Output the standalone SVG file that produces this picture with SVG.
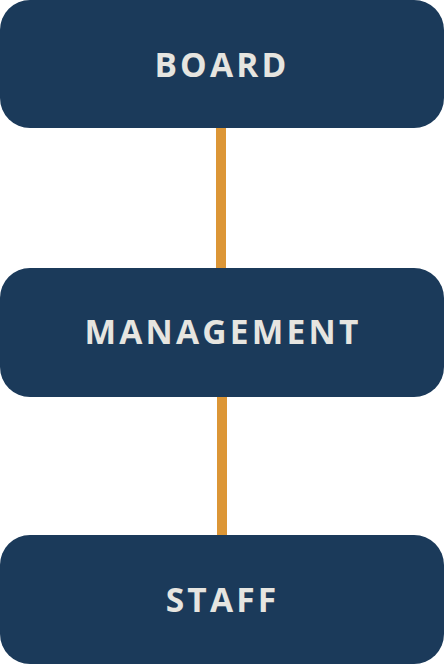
<svg xmlns="http://www.w3.org/2000/svg" width="444" height="664" viewBox="0 0 444 664">
<style>
.box{fill:#1b3a5a}
.lbl{fill:#e6e5e0;font-family:"Open Sans",sans-serif;font-weight:700;font-size:33.5px;letter-spacing:3.2px;text-anchor:middle}
.conn{stroke:#dc9636;stroke-width:10;fill:none}
</style>
<rect width="444" height="664" fill="#ffffff"/>
<g id="connectors">
<line class="conn" x1="221" y1="128" x2="221" y2="268"/>
<line class="conn" x1="222" y1="397" x2="222" y2="535"/>
</g>
<g id="board">
<rect class="box" x="0" y="0" width="444" height="128" rx="30"/>
<text class="lbl" x="222" y="77">BOARD</text>
</g>
<g id="management">
<rect class="box" x="0" y="268" width="444" height="129" rx="30"/>
<text class="lbl" x="223" y="344">MANAGEMENT</text>
</g>
<g id="staff">
<rect class="box" x="0" y="535" width="444" height="129" rx="30"/>
<text class="lbl" x="222.5" y="612">STAFF</text>
</g>
</svg>
